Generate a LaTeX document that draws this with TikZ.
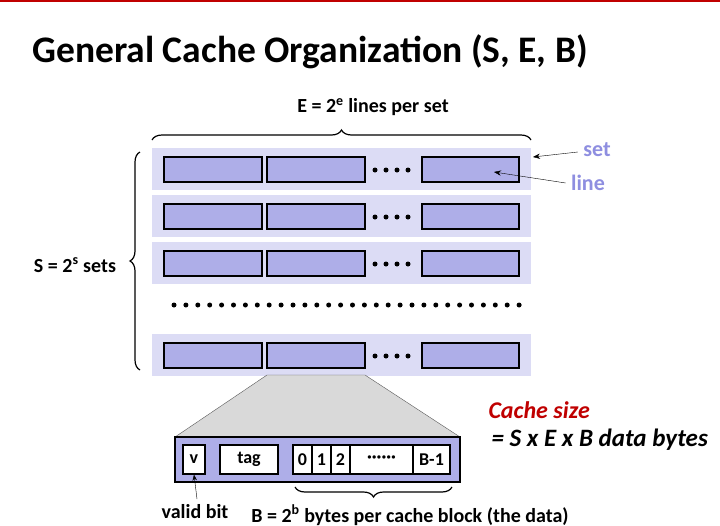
\documentclass[tikz,border=0pt]{standalone}
\usepackage{fontspec}
\setmainfont{Carlito}
\usetikzlibrary{decorations.pathreplacing,arrows.meta}
\definecolor{setc}{HTML}{DCDCF5}
\definecolor{linec}{HTML}{AEAEE8}
\definecolor{lab}{HTML}{8E8EE0}
\definecolor{cred}{HTML}{C00000}
\begin{document}
\begin{tikzpicture}[x=1pt,y=-1pt,
  linebox/.style={fill=linec,draw=black,line width=1.2pt},
  cell/.style={fill=white,draw=black,line width=1.2pt,font=\bfseries\fontsize{18}{18}\selectfont,inner sep=0},
  dot/.style={circle,fill=black,inner sep=0,minimum size=5pt},
  brace/.style={decorate,decoration={brace,amplitude=10pt},line width=1.2pt},
  lbl/.style={font=\bfseries\fontsize{20}{22}\selectfont}]
\useasboundingbox (0,0) rectangle (720,525);
\fill[cred] (0,0) rectangle (720,1.5);
\node[anchor=west,font=\bfseries\fontsize{37.5}{42}\selectfont] (title) at (29,52) {General Cache Organiza{}tion (S, E, B)};
% sets
\foreach \i/\y in {1/148,2/195,3/242,5/334}{
  \fill[setc] (152,\y) rectangle (531,\y+42);
  \draw[linebox] (164,\y+9) rectangle (262,\y+34);
  \draw[linebox] (267,\y+9) rectangle (365,\y+34);
  \draw[linebox] (422,\y+9) rectangle (519,\y+34);
  \foreach \x in {375,386,397,408} \node[dot] at (\x,\y+22) {};
}
\foreach \k in {0,...,29} \node[dot] at (174+\k*11.9,305) {};
\coordinate (setpt) at (533,157);
\coordinate (linept) at (494,172);
\node[font=\bfseries\fontsize{22}{24}\selectfont,text=lab] (setl) at (597,150) {set};
\node[font=\bfseries\fontsize{22}{24}\selectfont,text=lab] (linel) at (588,183) {line};
\draw[-{Stealth[length=7pt]},thin] (setl.west) ++(-2,2) -- (setpt);
\draw[-{Stealth[length=7pt]},thin] (linel.west) ++(-2,0) -- (linept);
% braces
\draw[brace] (152,140) -- (531,140);
\node[lbl] (elab) at (373,107) {E = 2\textsuperscript{e} lines per set};
\draw[brace] (140,370) -- (140,152);
\node[lbl] (slab) at (75,265) {S = 2\textsuperscript{s} sets};
% zoom trapezoid
\fill[gray!30,draw=gray!70!black,thin] (267,375) -- (365,375) -- (460,437) -- (175,437) -- cycle;
\draw[fill=linec,draw=black,line width=1.4pt] (175,437) rectangle (460,482);
\node[cell,minimum width=22pt,minimum height=29pt] (v) at (194,459.5) {v};
\node[cell,minimum width=58pt,minimum height=29pt] (tag) at (249,459.5) {tag};
\node[cell,minimum width=19pt,minimum height=29pt] (c0) at (302.5,459.5) {0};
\node[cell,minimum width=19pt,minimum height=29pt] (c1) at (321.5,459.5) {1};
\node[cell,minimum width=19pt,minimum height=29pt] (c2) at (340.5,459.5) {2};
\node[cell,minimum width=63pt,minimum height=29pt] (cd) at (381.5,459.5) {······};
\node[cell,minimum width=37pt,minimum height=29pt] (cb) at (431.5,459.5) {B-1};
\node[lbl] (vb) at (195,512) {valid bit};
\draw[-{Stealth[length=6pt]},thin] (197,499) -- (v.south);
\draw[brace] (452,487) -- (295,487);
\node[lbl] (blab) at (410,515) {B = 2\textsuperscript{b} bytes per cache block (the data)};
\node[anchor=west,text=cred,font=\bfseries\itshape\fontsize{24}{26}\selectfont] (cs) at (485,410) {Cache size};
\node[anchor=west,font=\bfseries\itshape\fontsize{25}{27}\selectfont] (cs2) at (488,440) {= S x E x B data bytes};
\end{tikzpicture}
\end{document}
